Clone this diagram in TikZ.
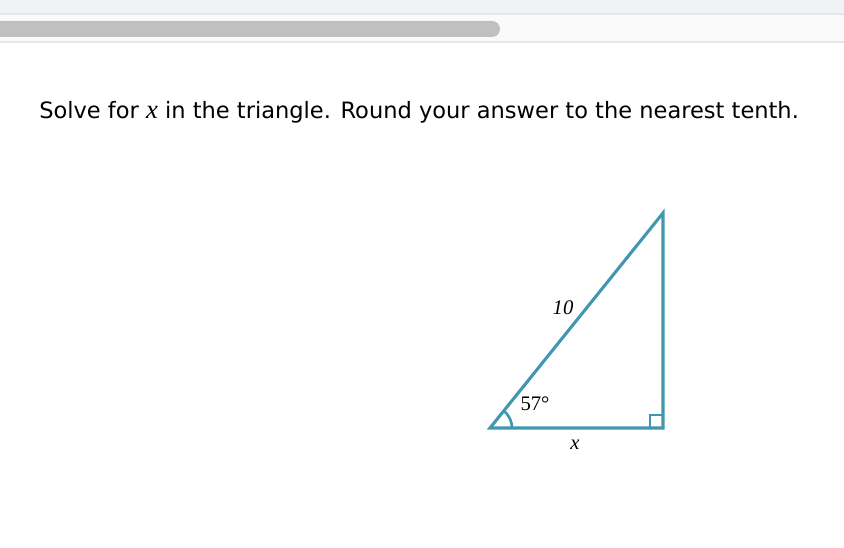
\documentclass[tikz,border=0pt]{standalone}
\usepackage{fontspec}
\setmainfont{DejaVu Sans}
\newfontfamily\lblfont{Liberation Serif}
\usetikzlibrary{positioning}
\definecolor{tri}{HTML}{4197B0}
\definecolor{topbg}{HTML}{F1F2F4}
\definecolor{barbg}{HTML}{FAFAFA}
\definecolor{barline}{HTML}{E6E6E6}
\definecolor{prog}{HTML}{C0C0C0}
\begin{document}
\begin{tikzpicture}[x=0.75pt,y=-0.75pt,
    side/.style={draw=tri,line width=2.3pt,line join=miter},
    lbl/.style={font=\lblfont\fontsize{15.5}{17}\selectfont,inner sep=0pt}]
    \useasboundingbox (0,0) rectangle (844,548);
    \fill[white] (0,0) rectangle (844,548);
    % top bar
    \fill[topbg] (0,0) rectangle (844,13);
    \fill[barbg] (0,14) rectangle (844,42);
    \draw[barline,line width=1.2pt] (0,14) -- (844,14);
    \draw[barline,line width=1.2pt] (0,42) -- (844,42);
    \fill[prog,rounded corners=6pt] (-10,21) rectangle (500,37);

    \node[anchor=west,inner sep=0pt,font=\fontsize{16.9}{20}\selectfont] (q) at (39,112)
        {Solve for \textit{\lblfont\fontsize{20}{20}\selectfont x} in the triangle. Round your answer to the nearest tenth.};

    \coordinate (a) at (490,428);
    \coordinate (b) at (663,428);
    \coordinate (c) at (663,213);

    \draw[side] (a) -- (b) -- (c) -- cycle;
    \draw[draw=tri,line width=2pt] (650,428) -- (650,415) -- (663,415);
    \draw[draw=tri,line width=2pt] ([xshift=22*0.75pt]a) arc[start angle=0,end angle=51.2,radius=22*0.75pt];

    \node[lbl] (hyp) at (563,308) {\textit{10}};
    \node[lbl] (ang) at (535,404) {57°};
    \node[lbl] (base) at (575,445) {\textit{x}};
\end{tikzpicture}
\end{document}
